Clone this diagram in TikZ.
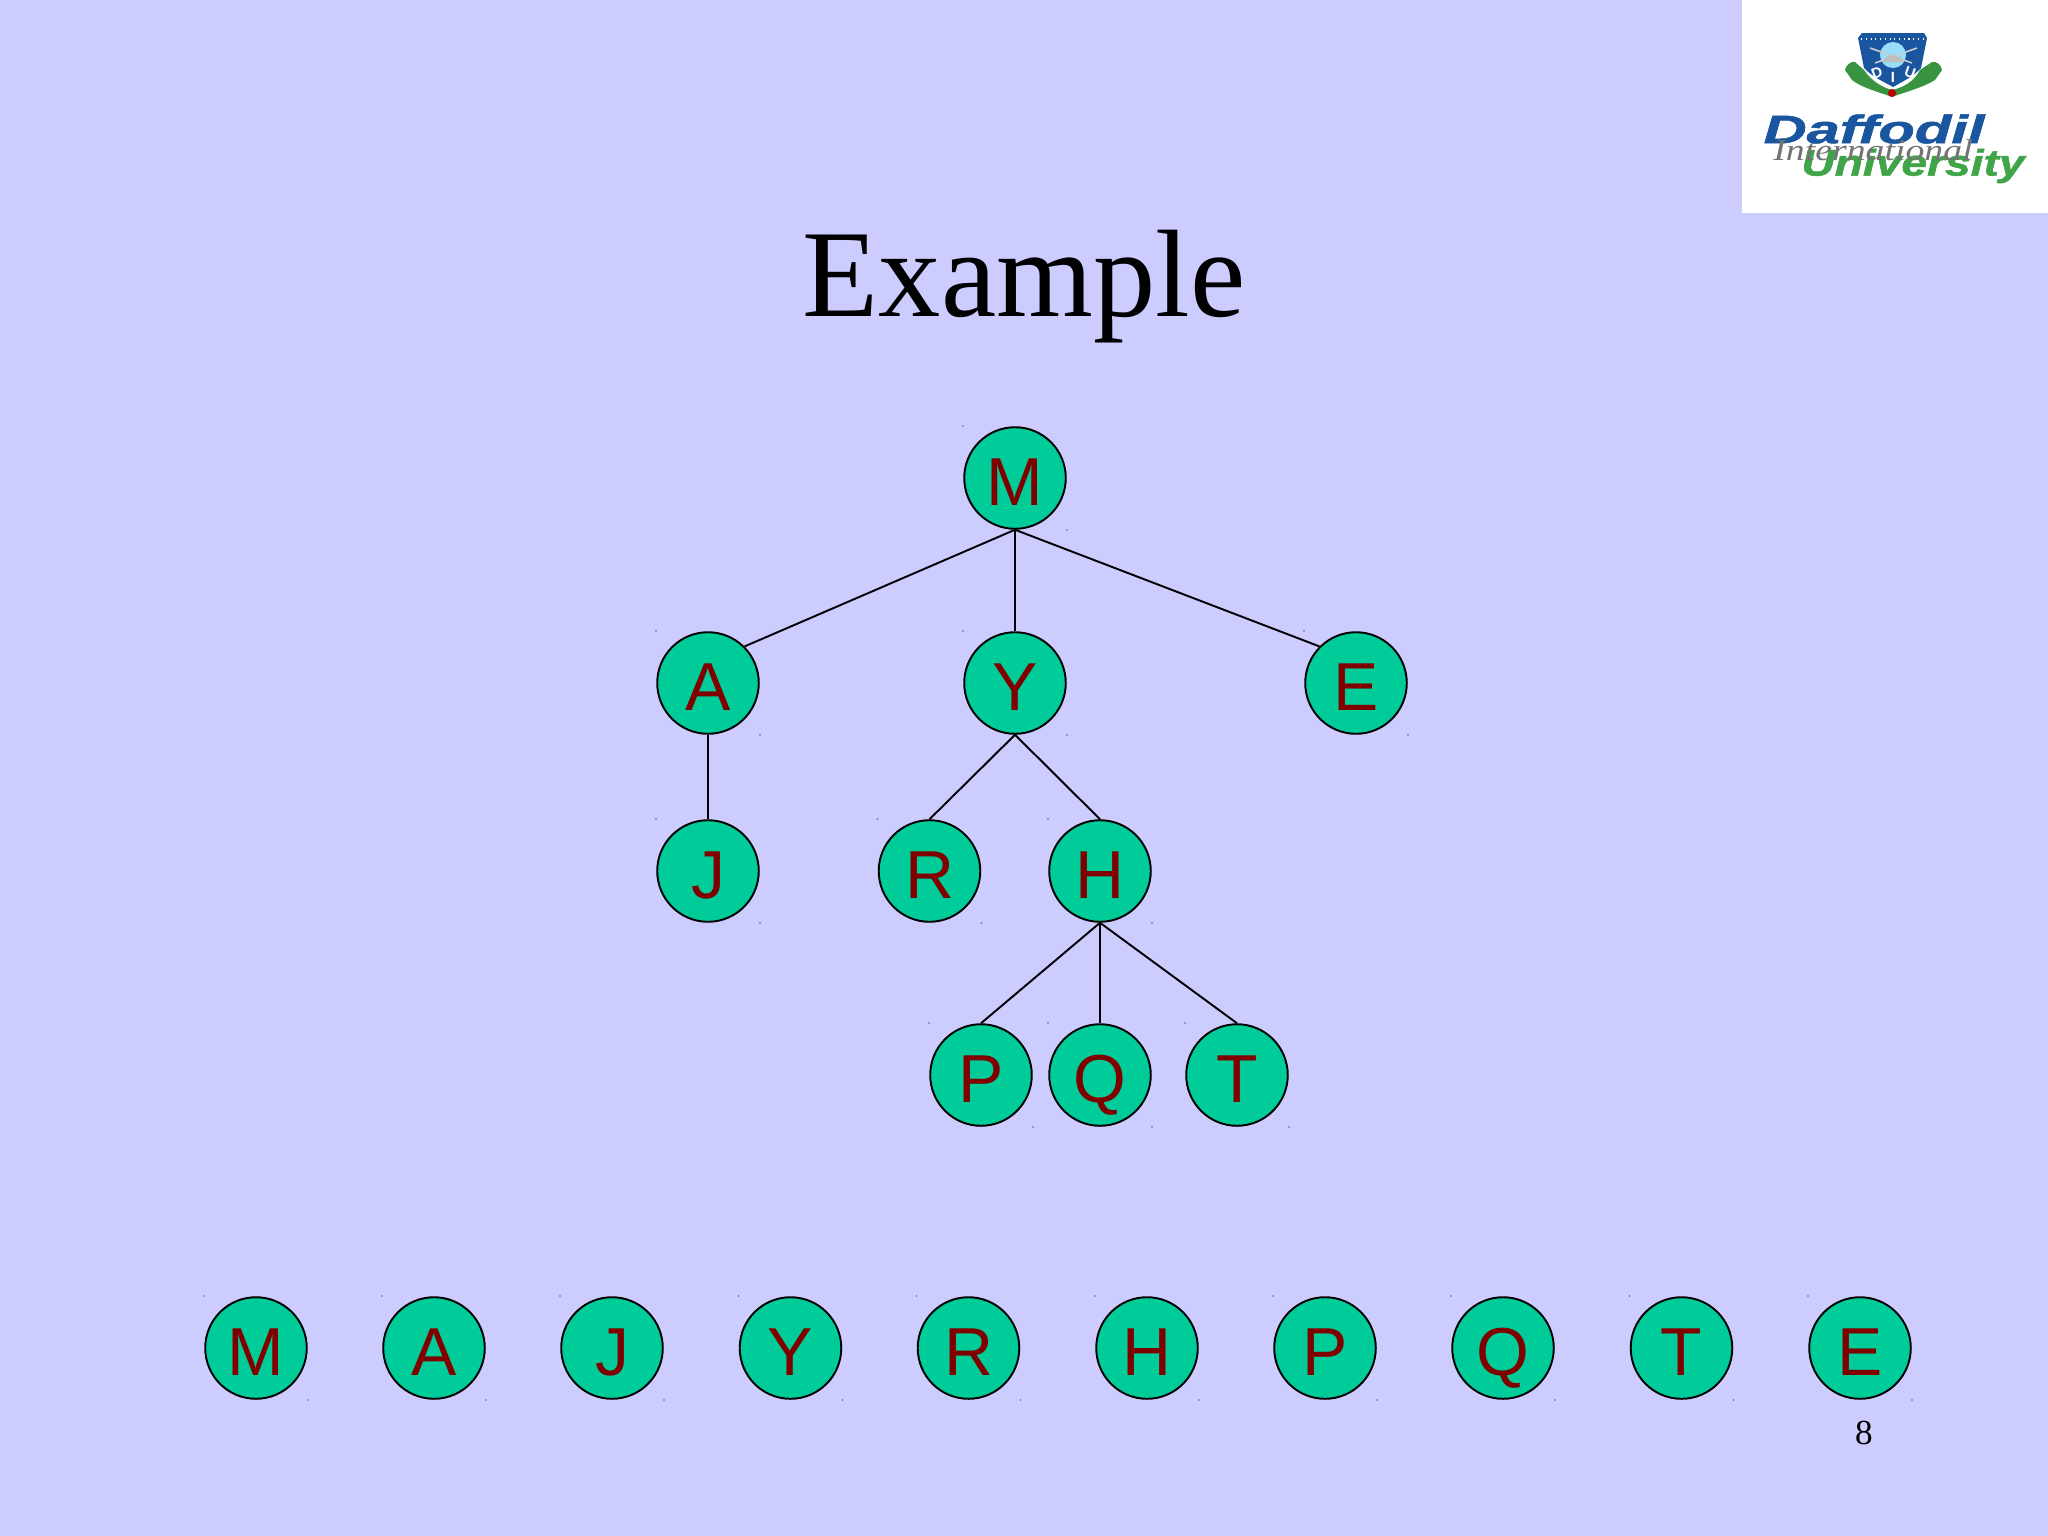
\documentclass[tikz,border=0pt]{standalone}
\usepackage{fontspec}
\setmainfont{Liberation Sans}
\newfontfamily\serifface{Liberation Serif}
\newfontfamily\logoface[UprightFont={* Bold Italic},UprightFeatures={FakeBold=1.2}]{Liberation Sans}
\definecolor{slidebg}{HTML}{CCCCFF}
\definecolor{nodegreen}{HTML}{00CC99}
\definecolor{letterred}{HTML}{800000}
\definecolor{speckgray}{HTML}{66668A}
\definecolor{diublue}{HTML}{1A56A0}
\definecolor{diugreen}{HTML}{3FA548}
\tikzset{
  letter/.style={circle,draw=black,line width=0.55pt,fill=nodegreen,text=letterred,
    minimum size=1.015cm,inner sep=0pt,text height=0.54cm,text depth=0pt,
    font=\fontsize{19.3}{20}\selectfont},
  edge/.style={black,line width=0.55pt},
  speck/.style={speckgray},
  diuletter/.style={text=white,font=\bfseries\fontsize{4.2}{4.2}\selectfont,inner sep=0pt}
}
\newcommand{\speckpair}[2]{
  \fill[speck] (#1-52,#2-52) circle (0.8);
  \fill[speck] (#1+52,#2+52) circle (0.8);
}
\begin{document}
\begin{tikzpicture}[x=0.01cm,y=-0.01cm]
  \useasboundingbox (0,0) rectangle (2048,1536);
  \fill[slidebg] (0,0) rectangle (2048,1536);

  \fill[white] (1742,0) rectangle (2048,213);
  \fill[diugreen!90!black] (1845,70) .. controls (1846,65) and (1851,61) .. (1855,62) -- (1864,70) .. controls (1872,82) and (1884,88) .. (1892,90) .. controls (1902,88) and (1914,82) .. (1920,70) -- (1932,62) .. controls (1937,61) and (1941,65) .. (1942,70) -- (1935,80) .. controls (1922,88) and (1905,92) .. (1892,97) .. controls (1879,92) and (1862,88) .. (1852,80) -- cycle;
  \fill[diublue] (1862,33) -- (1924,33) -- (1927,38) -- (1921,68) .. controls (1914,76) and (1902,82) .. (1893,87) .. controls (1884,82) and (1871,76) .. (1864,68) -- (1858,38) -- cycle;
  \draw[white,line width=0.35pt,densely dotted] (1861,39) -- (1925,39);
  \fill[cyan!40!white] (1893,55) circle (13);
  \draw[white!80!black,line width=0.45pt] (1870,48) -- (1912,63) (1917,48) -- (1875,63);
  \fill[white!75!black] (1883,62) .. controls (1885,53) and (1901,53) .. (1904,62) -- cycle;
  \node[diuletter,rotate=20] (diuD) at (1877,73) {D};
  \node[diuletter] (diuI) at (1893,77) {I};
  \node[diuletter,rotate=-20] (diuU) at (1910,73) {U};
  \fill[red!75!black] (1892,93) circle (4);
  \node[text=diublue,font=\logoface\fontsize{11.3}{12}\selectfont] (daffodil) at (1874,129) {\scalebox{1.5}[1]{Daffodil}};
  \node[text=diugreen,font=\logoface\fontsize{10.5}{11}\selectfont] (university) at (1913,166) {\scalebox{1.25}[1]{University}};
  \node[text=black!55,font=\serifface\itshape\fontsize{8.6}{10}\selectfont] (international) at (1873,150) {\scalebox{1.25}[1]{International}};

  \node[font=\serifface\fontsize{35.4}{36}\selectfont,anchor=base] (title) at (1024,316) {Example};
  \node[font=\serifface\fontsize{10}{12}\selectfont] (pagenum) at (1864,1433) {8};

  \node[letter] (M) at (1015,478) {M};
  \node[letter] (A) at (708,683) {A};
  \node[letter] (Y) at (1015,683) {Y};
  \node[letter] (E) at (1356,683) {E};
  \node[letter] (J) at (708,871) {J};
  \node[letter] (R) at (929.5,871) {R};
  \node[letter] (H) at (1100,871) {H};
  \node[letter] (P) at (981,1075) {P};
  \node[letter] (Q) at (1100,1075) {Q};
  \node[letter] (T) at (1237,1075) {T};

  \draw[edge] (M.south) -- (A.north east);
  \draw[edge] (M.south) -- (Y.north);
  \draw[edge] (M.south) -- (E.north west);
  \draw[edge] (A.south) -- (J.north);
  \draw[edge] (Y.south) -- (R.north);
  \draw[edge] (Y.south) -- (H.north);
  \draw[edge] (H.south) -- (P.north);
  \draw[edge] (H.south) -- (Q.north);
  \draw[edge] (H.south) -- (T.north);

  \foreach \x/\y in {1015/478,708/683,1015/683,1356/683,708/871,929.5/871,1100/871,981/1075,1100/1075,1237/1075}
    \speckpair{\x}{\y};

  \node[letter] (M2) at (256,1348) {M};
  \node[letter] (A2) at (434,1348) {A};
  \node[letter] (J2) at (612,1348) {J};
  \node[letter] (Y2) at (790.5,1348) {Y};
  \node[letter] (R2) at (968.5,1348) {R};
  \node[letter] (H2) at (1147,1348) {H};
  \node[letter] (P2) at (1325,1348) {P};
  \node[letter] (Q2) at (1503,1348) {Q};
  \node[letter] (T2) at (1681.5,1348) {T};
  \node[letter] (E2) at (1860,1348) {E};

  \foreach \x in {256,434,612,790.5,968.5,1147,1325,1503,1681.5,1860}
    \speckpair{\x}{1348};
\end{tikzpicture}
\end{document}
